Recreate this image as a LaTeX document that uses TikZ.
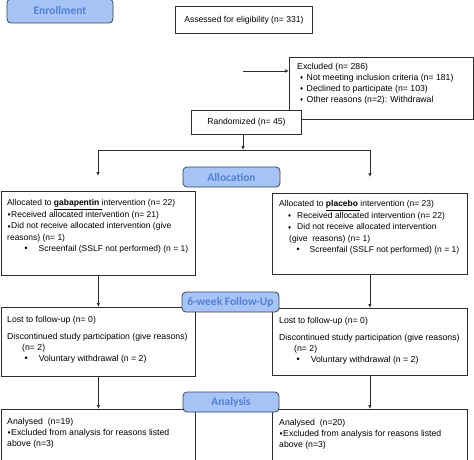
\documentclass[tikz,border=0pt]{standalone}
\usepackage{fontspec}
\setmainfont{Liberation Sans}
\newfontfamily\labfont{Carlito}
\newfontfamily\symfont{DejaVu Sans}
\usetikzlibrary{arrows.meta,calc}
\definecolor{labfill}{RGB}{166,196,245}
\definecolor{labtext}{RGB}{84,128,210}
\definecolor{lineclr}{RGB}{45,45,45}
\newcommand\smdiam{{\symfont\fontsize{4.5}{5}\selectfont\raisebox{0.7pt}{♦}}}
\newcommand\rbul{{\symfont •}}
\begin{document}
\begin{tikzpicture}[x=1pt,y=-1pt,
  box/.style={draw=lineclr, line width=0.8pt, fill=white, anchor=north west, inner sep=0pt, font=\fontsize{8.6}{10}\selectfont},
  lab/.style={draw=lineclr!75!labtext, line width=0.8pt, fill=labfill, rounded corners=4pt, text=labtext, font=\labfont\bfseries\fontsize{11.5}{12}\selectfont, inner sep=0pt},
  txt/.style={anchor=north west, inner sep=0pt, align=left, font=\fontsize{8.5}{11.5}\selectfont},
  txtb/.style={txt, font=\fontsize{8.7}{11}\selectfont},
  arr/.style={draw=lineclr, line width=0.7pt, -{Latex[length=4pt,width=3.5pt]}},
  ln/.style={draw=lineclr, line width=0.7pt}]
\useasboundingbox (0,0) rectangle (474,460);
\clip (0,0) rectangle (474,460);
% boxes
\node[box, minimum width=137pt, minimum height=27pt] (assess) at (175,6) {Assessed for eligibility (n= 331)};
\node[box, minimum width=184pt, minimum height=62pt] (excl) at (289,57) {};
\node[box, minimum width=110pt, minimum height=24pt] (rand) at (191,110) {Randomized (n= 45)};
\node[box, minimum width=194pt, minimum height=84pt] (allocL) at (1,191) {};
\node[box, minimum width=195pt, minimum height=81pt] (allocR) at (272,193) {};
\node[box, minimum width=194pt, minimum height=69pt] (fuL) at (1,307) {};
\node[box, minimum width=195pt, minimum height=67pt] (fuR) at (272,308) {};
\node[box, minimum width=194pt, minimum height=70pt] (anL) at (1,409) {};
\node[box, minimum width=195pt, minimum height=70pt] (anR) at (272,409) {};
% texts
\node[txtb] (exclt) at (297,62.5) {Excluded (n= 286)\\
\hspace*{2.5pt}\smdiam\hspace{3pt}Not meeting inclusion criteria (n= 181)\\
\hspace*{2.5pt}\smdiam\hspace{3pt}Declined to participate (n= 103)\\
\hspace*{2.5pt}\smdiam\hspace{3pt}Other reasons (n=2): Withdrawal};
\node[txt] (allocLt) at (7,199.5) {Allocated to \underline{\textbf{gabapentin }}intervention (n= 22)\\
\smdiam Received allocated intervention (n= 21)\\
\smdiam Did not receive allocated intervention (give\\
reasons) (n= 1)\\
\hspace*{16.5pt}\rbul\hspace{10pt}Screenfail (SSLF not performed) (n = 1)};
\node[txt] (allocRt) at (279,200.5) {Allocated to \underline{\textbf{placebo }}intervention (n= 23)\\
\hspace*{8.5pt}\smdiam\hspace{5.5pt}Received allocated intervention (n= 22)\\
\hspace*{8.5pt}\smdiam\hspace{5.5pt}Did not receive allocated intervention\\
\hspace*{10pt}(give\ \ reasons) (n= 1)\\
\hspace*{16.5pt}\rbul\hspace{9pt}Screenfail (SSLF not performed) (n = 1)};
\node[txtb] (fuLt) at (7,315.5) {Lost to follow-up (n= 0)\\[6.5pt]
Discontinued study participation (give reasons)\\
\hspace*{15pt}(n= 2)\\
\hspace*{16.5pt}\rbul\hspace{10pt}Voluntary withdrawal (n = 2)};
\node[txtb] (fuRt) at (279,316.5) {Lost to follow-up (n= 0)\\[6.5pt]
Discontinued study participation (give reasons)\\
\hspace*{15pt}(n= 2)\\
\hspace*{16.5pt}\rbul\hspace{10pt}Voluntary withdrawal (n = 2)};
\node[txtb] (anLt) at (7,417.5) {Analysed\ \ (n=19)\\
\smdiam Excluded from analysis for reasons listed\\
above (n=3)};
\node[txtb] (anRt) at (279,418.5) {Analysed\ \ (n=20)\\
\smdiam Excluded from analysis for reasons listed\\
above (n=3)};
% connectors
\coordinate (exin) at (243,71);
\draw[arr] (exin) -- (exin -| excl.west);
\coordinate (split) at (243,150);
\draw[arr] (rand.south -| split) -- (split);
\coordinate (lsplit) at (98,150);
\coordinate (rsplit) at (370,150);
\coordinate (lend) at (98,176);
\coordinate (rend) at (370,177);
\draw[ln] (lsplit) -- (rsplit);
\draw[arr] (lsplit) -- (lend);
\draw[arr] (rsplit) -- (rend);
\draw[arr] (allocL.south) -- (fuL.north);
\draw[arr] (allocR.south) -- (fuR.north);
\draw[arr] (fuL.south) -- (anL.north);
\draw[arr] (fuR.south) -- (anR.north);
% stage labels
\node[lab, minimum width=106pt, minimum height=24pt] (enroll) at (60,11) {Enrollment};
\node[lab, minimum width=97pt, minimum height=20pt] (alloc) at (231.5,177) {Allocation};
\node[lab, minimum width=97pt, minimum height=20pt] (follow) at (230.5,302) {6-week Follow-Up};
\node[lab, minimum width=96pt, minimum height=20pt] (anal) at (231,402) {Analysis};
\end{tikzpicture}
\end{document}
